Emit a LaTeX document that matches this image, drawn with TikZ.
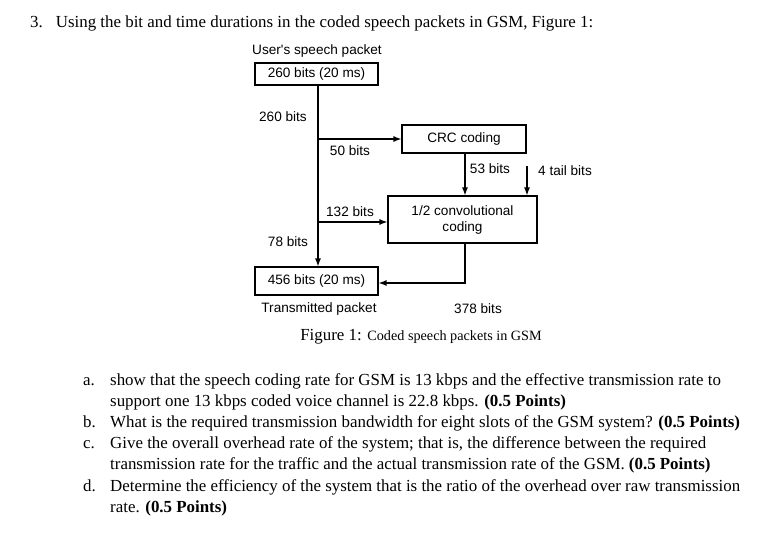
\documentclass[tikz,border=0pt]{standalone}
\usepackage{fontspec}
\usetikzlibrary{arrows.meta}
\setmainfont{Liberation Serif}
\newfontfamily\figsans{Liberation Sans}
\begin{document}
\begin{tikzpicture}[x=1pt,y=-1pt,
  bx/.style={draw,line width=1.1pt,inner sep=0pt},
  fl/.style={font=\figsans\fontsize{13.6}{16}\selectfont},
  tx/.style={anchor=base west,inner sep=0pt,font=\fontsize{16.9}{20}\selectfont},
  ar/.style={-{Latex[length=8pt,width=6pt]},line width=1.3pt},
  ln/.style={line width=1.3pt}]
\useasboundingbox (0,0) rectangle (779,542);
\node[tx] (q) at (30,27) {3.\hspace{13pt}Using the bit and time durations in the coded speech packets in GSM, Figure 1:};
% figure
\node[fl,bx,minimum width=123pt,minimum height=22pt] (top) at (316.5,74) {260 bits (20 ms)};
\node[fl,bx,minimum width=124pt,minimum height=28pt] (crc) at (464,139) {CRC coding};
\node[fl,bx,minimum width=149pt,minimum height=47pt,align=center] (conv) at (462.5,219.5) {1/2 convolutional\\coding};
\node[fl,bx,minimum width=123pt,minimum height=28pt] (out) at (316.5,281) {456 bits (20 ms)};
\coordinate (b1) at (318,139);
\coordinate (b2) at (318,222);
\coordinate (t0) at (527,166);
\coordinate (c1) at (465,283);
\draw[ln] (top.south -| b1) -- (b1);
\draw[ar] (b1) -- (crc.west);
\draw[ln] (b1) -- (b2);
\draw[ar] (b2) -- (b2 -| conv.west);
\draw[ar] (b2) -- (b2 |- out.north);
\draw[ar] (crc.south -| c1) -- (conv.north -| c1);
\draw[ar] (t0) -- (t0 |- conv.north);
\draw[ar] (conv.south -| c1) -- (c1) -- (c1 -| out.east);
\node[fl] (l0) at (317,51) {User's speech packet};
\node[fl] (l1) at (283,117) {260 bits};
\node[fl] (l2) at (350,151) {50 bits};
\node[fl] (l3) at (490,169) {53 bits};
\node[fl] (l4) at (565,171) {4 tail bits};
\node[fl] (l5) at (350,212) {132 bits};
\node[fl] (l6) at (288,242) {78 bits};
\node[fl] (l7) at (319,309) {Transmitted packet};
\node[fl] (l8) at (478,309) {378 bits};
\node[inner sep=0pt] (cap) at (421,337) {\fontsize{16.9}{20}\selectfont Figure 1: {\fontsize{14.2}{17}\selectfont Coded speech packets in GSM}};
% questions
\node[tx] (a) at (83,385) {a.};
\node[tx] (a1) at (110,385) {show that the speech coding rate for GSM is 13 kbps and the effective transmission rate to};
\node[tx] (a2) at (110,406) {support one 13 kbps coded voice channel is 22.8 kbps. \textbf{(0.5 Points)}};
\node[tx] (b) at (83,427) {b.};
\node[tx] (b1t) at (110,427) {What is the required transmission bandwidth for eight slots of the GSM system? \textbf{(0.5 Points)}};
\node[tx] (c) at (83,448) {c.};
\node[tx] (c1t) at (110,448) {Give the overall overhead rate of the system; that is, the difference between the required};
\node[tx] (c2t) at (110,469) {transmission rate for the traffic and the actual transmission rate of the GSM. \textbf{(0.5 Points)}};
\node[tx] (d) at (83,491) {d.};
\node[tx] (d1) at (110,491) {Determine the efficiency of the system that is the ratio of the overhead over raw transmission};
\node[tx] (d2) at (110,512) {rate. \textbf{(0.5 Points)}};
\end{tikzpicture}
\end{document}
